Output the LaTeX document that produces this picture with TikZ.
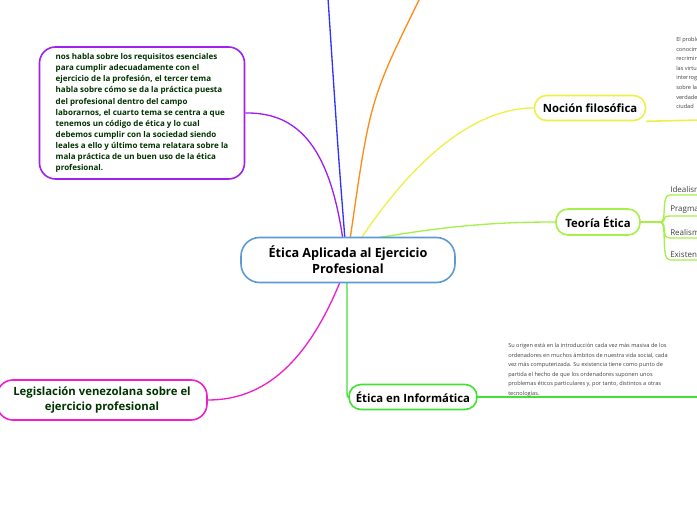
\documentclass[tikz,border=0pt]{standalone}
\usepackage{fontspec}
\setmainfont{Open Sans}
\begin{document}
\begin{tikzpicture}[x=0.75pt,y=-0.75pt,
 box/.style={draw,line width=1.2pt,rounded corners=9pt,fill=white,font=\bfseries\fontsize{8.5}{11}\selectfont,align=center,inner sep=0pt},
 small/.style={font=\fontsize{4.2}{7.2}\selectfont,align=left,anchor=north west,inner sep=0pt,text=black!75}]
\useasboundingbox (0,0) rectangle (697,520);
\clip (0,0) rectangle (697,520);
\definecolor{cblue}{HTML}{5B9BD5}
\definecolor{cpur}{HTML}{A020F0}
\definecolor{cyel}{HTML}{EEF04A}
\definecolor{clg}{HTML}{A6F04A}
\definecolor{cgr}{HTML}{44E033}
\definecolor{cpk}{HTML}{F020C8}
\coordinate (top1) at (328,-2);
\coordinate (top2) at (420,-2);
\draw[blue!80,line width=1pt] (345,240) .. controls (338,150) .. (top1);
\draw[orange!90,line width=1pt] (350,240) .. controls (370,100) .. (top2);
\node[box,draw=cpur,rounded corners=12pt,minimum width=205*0.75pt,minimum height=132*0.75pt,font=\bfseries\fontsize{6}{8.3}\selectfont,align=left,text=black!80!green] (p) at (142,113) {nos habla sobre los requisitos esenciales\\para cumplir adecuadamente con el\\ejercicio de la profesión, el tercer tema\\habla sobre cómo se da la práctica puesta\\del profesional dentro del campo\\laborarnos, el cuarto tema se centra a que\\tenemos un código de ética y lo cual\\debemos cumplir con la sociedad siendo\\leales a ello y último tema relatara sobre la\\mala práctica de un buen uso de la ética\\profesional.};
\draw[cpur,line width=1pt] (343,240) .. controls (330,150) and (300,112) .. (p.east);
\node[box,draw=cyel,minimum width=111*0.75pt,minimum height=25*0.75pt] (n) at (590,108) {Noción filosófica};
\draw[cyel,line width=1pt] (360,240) .. controls (420,150) and (480,108) .. (n.west);
\coordinate (ne) at (700,120);
\draw[cyel,line width=1.2pt] (n.south east) -- (ne);
\node[small] (nt) at (676,37) {El problema\\conocimiento\\recriminar\\las virtudes\\interrogantes\\sobre la\\verdadero\\ciudad};
\node[box,draw=clg,minimum width=84*0.75pt,minimum height=26*0.75pt] (t) at (598,222) {Teoría Ética};
\draw[clg,line width=1pt] (365,240) .. controls (450,225) and (500,222) .. (t.west);
\coordinate (tj) at (660,222);
\draw[clg,line width=1pt] (t.east) -- (tj);
\foreach \y/\s/\i in {183/Idealismo/a,204/Pragmatismo/b,226/Realismo/c,248/Existencialismo/d}{
 \node[small,font=\fontsize{6}{7}\selectfont,anchor=south west] (l\i) at (670,\y+10) {\s};
 \coordinate (u\i) at (700,\y+12);
 \draw[clg,line width=1pt] (tj) .. controls (668,222) and (660,\y+12) .. (670,\y+12) -- (u\i);
}
\node[box,draw=cgr,minimum width=128*0.75pt,minimum height=25*0.75pt] (e) at (413,397) {Ética en Informática};
\draw[cgr,line width=1pt] (347,283) -- (347,380) .. controls (347,397) .. (e.west);
\coordinate (ee) at (700,397);
\draw[cgr,line width=1.2pt] (e.east) -- (ee);
\node[small] (et) at (508,343) {Su origen está en la introducción cada vez más masiva de los\\ordenadores en muchos ámbitos de nuestra vida social, cada\\vez más computerizada. Su existencia tiene como punto de\\partida el hecho de que los ordenadores suponen unos\\problemas éticos particulares y, por tanto, distintos a otras\\tecnologías.};
\node[box,draw=cpk,minimum width=210*0.75pt,minimum height=40*0.75pt,text=black!80!green,rounded corners=12pt] (g) at (102,400) {Legislación venezolana sobre el\\ejercicio profesional};
\draw[cpk,line width=1pt] (340,282) .. controls (300,380) and (250,400) .. (g.east);
\node[box,draw=cblue,minimum width=214*0.75pt,minimum height=45*0.75pt,rounded corners=14pt,font=\bfseries\fontsize{9.5}{12}\selectfont] (c) at (348,260) {Ética Aplicada al Ejercicio\\Profesional};
\end{tikzpicture}
\end{document}
